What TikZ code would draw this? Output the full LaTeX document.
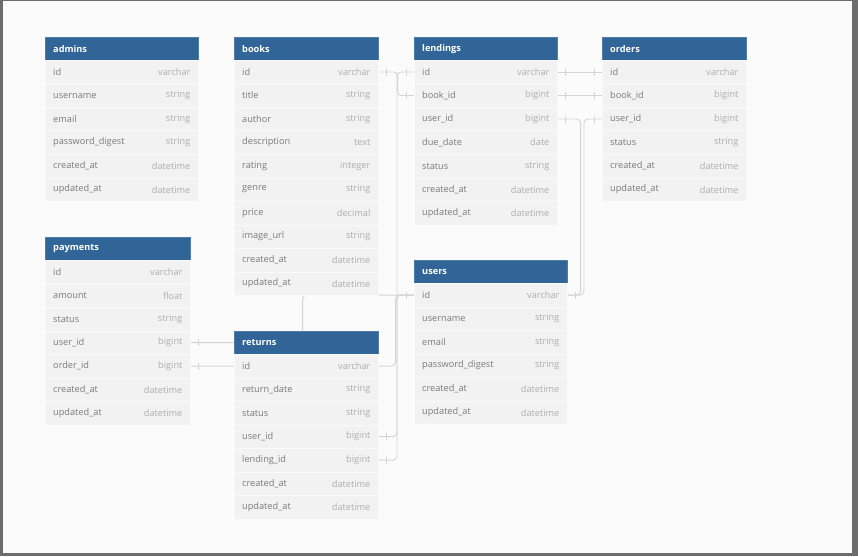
\documentclass[tikz,border=0pt]{standalone}
\usepackage{fontspec}
\setmainfont{Open Sans}
\usetikzlibrary{calc,decorations.markings}

\definecolor{headblue}{RGB}{49,101,151}
\definecolor{rowgray}{RGB}{242,242,242}
\definecolor{rowline}{RGB}{250,250,250}
\definecolor{linkgray}{RGB}{212,212,212}
\definecolor{namegray}{RGB}{122,122,122}
\definecolor{typegray}{RGB}{174,174,174}
\definecolor{pagebg}{RGB}{251,251,251}
\definecolor{framegray}{RGB}{108,108,108}

\pgfdeclarelayer{paper}
\pgfdeclarelayer{links}
\pgfsetlayers{paper,links,main}

\tikzset{
    tblhead/.style={fill=headblue, draw=headblue!85!white, line width=0.6pt,
        minimum height=23pt, inner sep=0pt},
    tbltitle/.style={text=white, font=\fontsize{9.2}{11}\selectfont\bfseries,
        inner sep=0pt, anchor=west},
    tblrow/.style={fill=rowgray, draw=rowline, line width=0.6pt,
        minimum height=23.5pt, inner sep=0pt},
    fname/.style={text=namegray, font=\fontsize{9.2}{11}\selectfont,
        inner sep=0pt, anchor=west},
    ftype/.style={text=typegray, font=\fontsize{9.2}{11}\selectfont,
        inner sep=0pt, anchor=east},
    link/.style={draw=linkgray, line width=0.9pt, rounded corners=4pt,
        postaction={decorate},
        decoration={markings,
            mark=at position 8pt with {\draw[linkgray, line width=0.7pt] (0,-3.5pt) -- (0,3.5pt);},
            mark=at position -8pt with {\draw[linkgray, line width=0.7pt] (0,-3.5pt) -- (0,3.5pt);}}}
}

% name, x, y, width, fields
\newcommand{\dbtable}[5]{%
    \node[tblhead, minimum width=#4pt, anchor=north west] (#1-0) at (#2,#3) {};
    \node[tbltitle] (#1-title) at ($(#1-0.west)+(8pt,0)$) {#1};
    \foreach \fname/\ftype [count=\i] in {#5} {
        \node[tblrow, minimum width=#4pt, anchor=north west] (#1-\i) at (#2,{#3+23+23.5*(\i-1)}) {};
        \node[fname] (#1-\i-name) at ($(#1-\i.west)+(8pt,0)$) {\fname};
        \node[ftype] (#1-\i-type) at ($(#1-\i.east)+(-8pt,0)$) {\ftype};
    }
}

\begin{document}
\begin{tikzpicture}[x=1pt,y=-1pt]
    \useasboundingbox (0,0) rectangle (858,556);

    \begin{pgfonlayer}{paper}
        \fill[framegray] (0,0) rectangle (858,556);
        \fill[pagebg] (3,1) rectangle (852,553);
    \end{pgfonlayer}

    % tables
    \dbtable{admins}{45}{37}{153}{id/varchar, username/string, email/string,
        password\_digest/string, created\_at/datetime, updated\_at/datetime}
    \dbtable{books}{234}{37}{144}{id/varchar, title/string, author/string,
        description/text, rating/integer, genre/string, price/decimal,
        image\_url/string, created\_at/datetime, updated\_at/datetime}
    \dbtable{lendings}{414}{37}{143}{id/varchar, book\_id/bigint, user\_id/bigint,
        due\_date/date, status/string, created\_at/datetime, updated\_at/datetime}
    \dbtable{orders}{602}{37}{144}{id/varchar, book\_id/bigint, user\_id/bigint,
        status/string, created\_at/datetime, updated\_at/datetime}
    \dbtable{payments}{45}{237}{145}{id/varchar, amount/float, status/string,
        user\_id/bigint, order\_id/bigint, created\_at/datetime, updated\_at/datetime}
    \dbtable{users}{414}{260}{153}{id/varchar, username/string, email/string,
        password\_digest/string, created\_at/datetime, updated\_at/datetime}
    \dbtable{returns}{234}{331}{144}{id/varchar, return\_date/string, status/string,
        user\_id/bigint, lending\_id/bigint, created\_at/datetime, updated\_at/datetime}

    % relations
    \begin{pgfonlayer}{links}
        \draw[link] (books-1.east) -- ++(19,0) |- (lendings-2.west);
        \draw[link] (lendings-1.west) -- ++(-17,0) |- (returns-5.east);
        \draw[link] (users-1.west) -- ++(-17,0) |- (returns-4.east);
        \draw[link] (payments-4.east) -- ++(112,0) |- (users-1.west);
        \draw[link] (payments-5.east) -- ++(205,0) |- (users-1.west);
        \draw[link] (lendings-1.east) -- (orders-1.west);
        \draw[link] (lendings-2.east) -- (orders-2.west);
        \draw[link] (lendings-3.east) -- ++(23,0) |- (users-1.east);
        \draw[link] (orders-3.west) -- ++(-18,0) |- (users-1.east);
    \end{pgfonlayer}
\end{tikzpicture}
\end{document}
